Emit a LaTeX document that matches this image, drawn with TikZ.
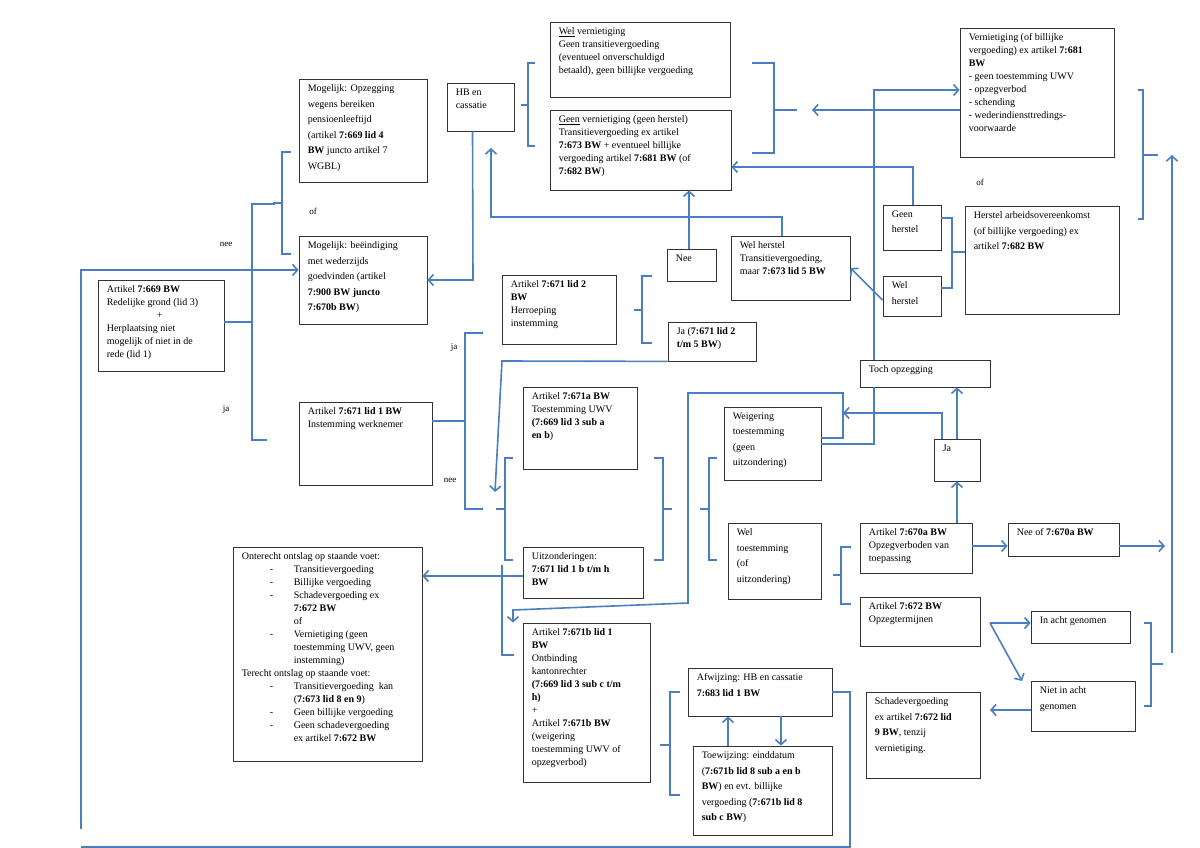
\documentclass[tikz,border=0pt]{standalone}
\usepackage{fontspec}
\setmainfont{Liberation Serif}
\usetikzlibrary{arrows.meta,fit}
\definecolor{bl}{RGB}{74,126,190}
\tikzset{
  bx/.style={draw=black!80,line width=0.8pt,inner sep=0pt},
  txt/.style={anchor=north west,align=left,inner sep=0pt,font=\fontsize{10}{13}\selectfont},
  txw/.style={txt,font=\fontsize{10}{15.5}\selectfont},
  ln/.style={draw=bl,line width=1.6pt},
  ar/.style={ln,-{Straight Barb[length=5pt,width=11pt,line width=1.6pt]}},
  lb/.style={font=\fontsize{9}{11}\selectfont,inner sep=0pt}
}
\newcommand\bxx[7][txt]{\node[bx,fit={(#3,#4)(#5,#6)}] (#2) {};
  \node[#1] at ([xshift=9pt,yshift=-6pt]#2.north west) {#7};}
\newcommand\dl{\makebox[52pt][l]{\hspace*{28pt}-}}
\newcommand\ind{\hspace*{52pt}}
\begin{document}
\begin{tikzpicture}[x=1pt,y=-1pt]
\useasboundingbox (0,0) rectangle (1200,848);
% boxes
\bxx{hb}{447}{83}{514}{131}{HB en\\cassatie}
\bxx[txw]{mogop}{299}{79}{427}{182}{Mogelijk: Opzegging\\wegens bereiken\\pensioenleeftijd\\(artikel \textbf{7:669 lid 4}\\\textbf{BW} juncto artikel 7\\WGBL)}
\bxx[txw]{mogbe}{299}{236}{427}{324}{Mogelijk: beëindiging\\met wederzijds\\goedvinden (artikel\\\textbf{7:900 BW juncto}\\\textbf{7:670b BW})}
\bxx{a669}{98}{280}{224}{371}{Artikel \textbf{7:669 BW}\\Redelijke grond (lid 3)\\\hspace*{50pt}+\\Herplaatsing niet\\mogelijk of niet in de\\rede (lid 1)}
\bxx{a671}{299}{402}{432}{485}{Artikel \textbf{7:671 lid 1 BW}\\Instemming werknemer}
\bxx{welv}{550}{22}{730}{97}{\underline{Wel} vernietiging\\Geen transitievergoeding\\(eventueel onverschuldigd\\betaald), geen billijke vergoeding}
\bxx{geenv}{550}{110}{731}{190}{\underline{Geen} vernietiging (geen herstel)\\Transitievergoeding ex artikel\\\textbf{7:673 BW} + eventueel billijke\\vergoeding artikel \textbf{7:681 BW} (of\\\textbf{7:682 BW})}
\bxx{vern}{960}{28}{1114}{157}{Vernietiging (of billijke\\vergoeding) ex artikel \textbf{7:681}\\\textbf{BW}\\- geen toestemming UWV\\- opzegverbod\\- schending\\- wederindiensttredings-\\voorwaarde}
\bxx[txw]{herst}{965}{206}{1119}{314}{Herstel arbeidsovereenkomst\\(of billijke vergoeding) ex\\artikel \textbf{7:682 BW}}
\bxx[txw]{geenh}{883}{205}{941}{250}{Geen\\herstel}
\bxx[txw]{welh}{883}{276}{941}{316}{Wel\\herstel}
\bxx{welht}{731}{236}{850}{300}{Wel herstel\\Transitievergoeding,\\maar \textbf{7:673 lid 5 BW}}
\bxx{nee}{667}{249}{716}{281}{Nee}
\bxx{ja2}{668}{322}{756}{361}{Ja (\textbf{7:671 lid 2}\\\textbf{t/m 5 BW})}
\bxx{toch}{860}{360}{990}{387}{Toch opzegging}
\bxx{a6712}{502}{275}{616}{344}{Artikel \textbf{7:671 lid 2}\\\textbf{BW}\\Herroeping\\instemming}
\bxx{a671a}{523}{387}{637}{469}{Artikel \textbf{7:671a BW}\\Toestemming UWV\\\textbf{(7:669 lid 3 sub a}\\\textbf{en b})}
\bxx{uitz}{523}{547}{643}{598}{Uitzonderingen:\\\textbf{7:671 lid 1 b t/m h}\\\textbf{BW}}
\bxx[txw]{weig}{724}{407}{821}{480}{Weigering\\toestemming\\(geen\\uitzondering)}
\bxx[txw]{welt}{728}{523}{821}{599}{Wel\\toestemming\\(of\\uitzondering)}
\bxx{jas}{934}{439}{980}{481}{Ja}
\bxx{a670a}{860}{523}{972}{573}{Artikel \textbf{7:670a BW}\\Opzegverboden van\\toepassing}
\bxx{neeof}{1008}{523}{1119}{556}{Nee of \textbf{7:670a BW}}
\bxx{a672}{860}{597}{980}{646}{Artikel \textbf{7:672 BW}\\Opzegtermijnen}
\bxx{inacht}{1031}{611}{1130}{643}{In acht genomen}
\bxx[txw]{nietin}{1031}{681}{1135}{731}{Niet in acht\\genomen}
\bxx[txw]{schade}{866}{692}{980}{778}{Schadevergoeding\\ex artikel \textbf{7:672 lid}\\\textbf{9 BW}, tenzij\\vernietiging.}
\bxx[txw]{afw}{688}{668}{832}{716}{Afwijzing: HB en cassatie\\\textbf{7:683 lid 1 BW}}
\bxx[txw]{toew}{693}{746}{832}{835}{Toewijzing: einddatum\\(\textbf{7:671b lid 8 sub a en b}\\\textbf{BW}) en evt. billijke\\vergoeding (\textbf{7:671b lid 8}\\\textbf{sub c BW})}
\bxx{a671b}{523}{623}{650}{782}{Artikel \textbf{7:671b lid 1}\\\textbf{BW}\\Ontbinding\\kantonrechter\\\textbf{(7:669 lid 3 sub c t/m}\\\textbf{h)}\\+\\Artikel \textbf{7:671b BW}\\(weigering\\toestemming UWV of\\opzegverbod)}
\bxx{onter}{233}{547}{422}{761}{Onterecht ontslag op staande voet:\\\dl Transitievergoeding\\\dl Billijke vergoeding\\\dl Schadevergoeding ex\\\ind\textbf{7:672 BW}\\\ind of\\\dl Vernietiging (geen\\\ind toestemming UWV, geen\\\ind instemming)\\Terecht ontslag op staande voet:\\\dl Transitievergoeding\ \ kan\\\ind(\textbf{7:673 lid 8 en 9})\\\dl Geen billijke vergoeding\\\dl Geen schadevergoeding\\\ind ex artikel \textbf{7:672 BW}}
% labels
\node[lb] (lnee) at (226,244) {nee};
\node[lb] (lja) at (226,409) {ja};
\node[lb] (lof1) at (313,211) {of};
\node[lb] (lof2) at (980,182) {of};
\node[lb] (lja2) at (454,347) {ja};
\node[lb] (lnee2) at (450,480) {nee};
% coordinates for free ends
\coordinate (c1) at (81,829);
% left big loop
\draw[ar] (c1) -- (81,270) -- (mogbe.west|-0,270);
\draw[ln] (81,847) -- (850,847) -- (850,692) -- (afw.east|-0,692);
% brace 7:669
\draw[ln] (a669.east|-0,322) -- (252,322);
\draw[ln] (275,204) -- (252,204) -- (252,440) -- (267,440);
\draw[ln] (273,203) -- (282,203);
\draw[ln] (291,152) -- (282,152) -- (282,254) -- (291,254);
% HB
\draw[ar] (hb.south) ++(-8,0) coordinate (hbs) -- (473,280) -- (mogbe.east|-0,280);
\draw[ar] (welht.north-|782,0) -- (782,217) -- (491,217) -- (491,148);
\draw[ln] (535,63) -- (528,63) -- (528,146) -- (535,146);
\draw[ln] (521,105) -- (528,105);
\draw[ar] (nee.north-|689,0) -- (geenv.south-|689,0);
% right brace vernietiging boxes
\draw[ln] (752,63) -- (774,63) -- (774,153) -- (752,153);
\draw[ln] (774,110) -- (797,110);
\draw[ar] (vern.west|-0,110) -- (812,110);
\draw[ar] (toch.north-|874,0) -- (874,90) -- (vern.west|-0,90);
\draw[ar] (geenh.north-|913,0) -- (913,167) -- (geenv.east|-0,167);
\draw[ln] (941,218) -- (952,218) -- (952,288) -- (941,288);
\draw[ln] (952,252) -- (herst.west|-0,252);
\draw[ar] (welh.west|-0,300) -- (welht.east|-0,268);
% right side
\draw[ln] (1138,90) -- (1143,90) -- (1143,219) -- (1138,219);
\draw[ln] (1143,155) -- (1158,155);
\draw[ar] (1172,653) -- (1172,155);
\draw[ln] (1144,623) -- (1151,623) -- (1151,706) -- (1144,706);
\draw[ln] (1151,664) -- (1163,664);
% toch / weigering
\draw[ln] (weig.east|-0,444) -- (874,444) -- (toch.south-|874,0);
\draw[ar] (weig.east|-0,438) -- (843,438) -- (843,393) -- (688,393) -- (688,603) -- (513,610) -- (a671b.north-|513,0);
\draw[ar] (jas.north-|942,0) -- (942,413) -- (843,413);
\draw[ar] (jas.north-|957,0) -- (toch.south-|957,0);
\draw[ar] (a670a.north-|957,0) -- (jas.south-|957,0);
\draw[ar] (a670a.east|-0,546) -- (neeof.west|-0,546);
\draw[ar] (neeof.east|-0,546) -- (1165,546);
% 7:672
\draw[ar] (990,623) -- (inacht.west|-0,623);
\draw[ar] (990,623) -- (1022,681);
\draw[ar] (nietin.west|-0,710) -- (990,710);
\draw[ar] (toew.north-|728,0) -- (afw.south-|728,0);
\draw[ar] (afw.south-|781,0) -- (toew.north-|781,0);
\draw[ln] (680,692) -- (670,692) -- (670,795) -- (680,795);
\draw[ln] (660,745) -- (670,745);
\draw[ln] (851,547) -- (841,547) -- (841,604) -- (851,604);
\draw[ln] (833,575) -- (841,575);
% braces middle
\draw[ln] (717,458) -- (709,458) -- (709,560) -- (717,560);
\draw[ln] (700,509) -- (709,509);
\draw[ln] (654,458) -- (663,458) -- (663,560) -- (654,560);
\draw[ln] (663,509) -- (672,509);
\draw[ln] (513,458) -- (505,458) -- (505,560) -- (513,560);
\draw[ln] (496,509) -- (505,509);
\draw[ln] (483,333) -- (465,333) -- (465,509) -- (483,509);
\draw[ln] (a671.east|-0,421) -- (465,421);
\draw[ln] (652,276) -- (642,276) -- (642,343) -- (652,343);
\draw[ln] (634,310) -- (642,310);
\draw[ar] (ja2.south west) -- (502,361) -- (495,492);
% uitzonderingen
\draw[ar] (uitz.west|-0,576) -- (onter.east|-0,576);
\draw[ln] (502,565) -- (502,655) -- (514,655);
\end{tikzpicture}
\end{document}
